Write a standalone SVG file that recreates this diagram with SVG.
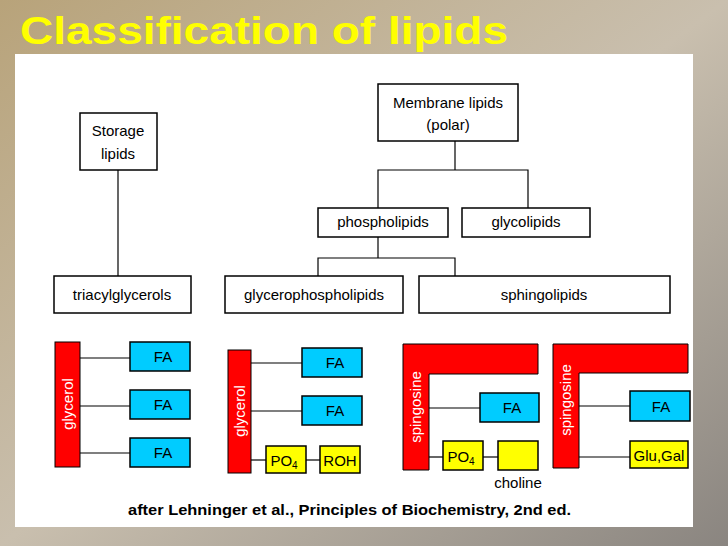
<svg xmlns="http://www.w3.org/2000/svg" width="728" height="546" viewBox="0 0 728 546">
<defs>
<linearGradient id="bg" x1="0" y1="0" x2="1" y2="1">
<stop offset="0" stop-color="#b8a37a"/><stop offset="0.5" stop-color="#c9bfae"/><stop offset="1" stop-color="#8a8580"/>
</linearGradient>
</defs>
<style>
.b{fill:#fff;stroke:#000;stroke-width:1.5}
.t{font-family:"Liberation Sans",Arial,sans-serif;font-size:15px;fill:#000;text-anchor:middle}
.fa{fill:#00ccff;stroke:#000;stroke-width:1.5}
.y{fill:#ffff00;stroke:#000;stroke-width:1.5}
.r{fill:#ff0000;stroke:#000;stroke-width:1}
.w{font-family:"Liberation Sans",Arial,sans-serif;font-size:15px;fill:#fff;text-anchor:middle}
.c line,.c polyline{stroke:#000;stroke-width:1.2;fill:none}
</style>
<rect width="728" height="546" fill="url(#bg)"/>
<rect x="15" y="54" width="678" height="473" fill="#fff"/>
<text x="20" y="44" font-family="Liberation Sans,Arial,sans-serif" font-weight="bold" font-size="38" fill="#ffff00" textLength="488" lengthAdjust="spacingAndGlyphs">Classification of lipids</text>
<g class="c" id="connectors">
<line x1="118" y1="170" x2="118" y2="276"/>
<line x1="455" y1="141" x2="455" y2="170"/>
<polyline points="378,208 378,170 528,170 528,208"/>
<line x1="378" y1="237" x2="378" y2="258"/>
<polyline points="318,276 318,258 455,258 455,276"/>
<line x1="80" y1="358" x2="130" y2="358"/><line x1="80" y1="406" x2="130" y2="406"/><line x1="80" y1="453" x2="130" y2="453"/>
<line x1="251" y1="363" x2="302" y2="363"/><line x1="251" y1="411" x2="302" y2="411"/><line x1="251" y1="460" x2="266" y2="460"/><line x1="306" y1="460" x2="320" y2="460"/>
<line x1="429" y1="408" x2="480" y2="408"/><line x1="429" y1="457" x2="443" y2="457"/><line x1="483" y1="457" x2="498" y2="457"/>
<line x1="579" y1="406" x2="630" y2="406"/><line x1="579" y1="457" x2="630" y2="457"/>
</g>
<g id="storage"><rect class="b" x="80" y="113" width="77" height="57"/><text class="t" x="118" y="136">Storage</text><text class="t" x="118" y="159">lipids</text></g>
<g id="membrane"><rect class="b" x="378" y="84" width="140" height="57"/><text class="t" x="448" y="108">Membrane lipids</text><text class="t" x="448" y="130">(polar)</text></g>
<g id="phospholipids"><rect class="b" x="318" y="208" width="130" height="29"/><text class="t" x="383" y="227">phospholipids</text></g>
<g id="glycolipids"><rect class="b" x="462" y="208" width="128" height="29"/><text class="t" x="526" y="227">glycolipids</text></g>
<g id="triacylglycerols"><rect class="b" x="54" y="276" width="137" height="37"/><text class="t" x="122" y="300">triacylglycerols</text></g>
<g id="glycerophospholipids"><rect class="b" x="225" y="276" width="178" height="37"/><text class="t" x="314" y="300">glycerophospholipids</text></g>
<g id="sphingolipids"><rect class="b" x="419" y="276" width="251" height="37"/><text class="t" x="544" y="300">sphingolipids</text></g>
<g id="tag">
<rect class="r" x="55" y="342" width="25" height="125"/><text class="w" transform="translate(73,404) rotate(-90)">glycerol</text>
<rect class="fa" x="130" y="342" width="60" height="29"/><text class="t" x="163" y="362">FA</text>
<rect class="fa" x="130" y="390" width="60" height="29"/><text class="t" x="163" y="410">FA</text>
<rect class="fa" x="130" y="438" width="60" height="29"/><text class="t" x="163" y="458">FA</text>
</g>
<g id="gpl">
<rect class="r" x="228" y="350" width="23" height="123"/><text class="w" transform="translate(245,411) rotate(-90)">glycerol</text>
<rect class="fa" x="302" y="348" width="60" height="29"/><text class="t" x="335" y="368">FA</text>
<rect class="fa" x="302" y="396" width="60" height="29"/><text class="t" x="335" y="416">FA</text>
<rect class="y" x="266" y="446" width="40" height="27"/><text class="t" x="284" y="466">PO<tspan font-size="10" dy="3">4</tspan></text>
<rect class="y" x="320" y="446" width="40" height="27"/><text class="t" x="340" y="466">ROH</text>
</g>
<g id="sph">
<path class="r" d="M403,344 H538 V374 H429 V470 H403 Z"/><text class="w" transform="translate(421,407) rotate(-90)">spingosine</text>
<rect class="fa" x="480" y="393" width="59" height="29"/><text class="t" x="512" y="413">FA</text>
<rect class="y" x="443" y="441" width="40" height="29"/><text class="t" x="461" y="462">PO<tspan font-size="10" dy="3">4</tspan></text>
<rect class="y" x="498" y="441" width="40" height="29"/>
<text class="t" x="518" y="488">choline</text>
</g>
<g id="glycolipid">
<path class="r" d="M553,344 H688 V373 H579 V468 H553 Z"/><text class="w" transform="translate(571,400) rotate(-90)">spingosine</text>
<rect class="fa" x="630" y="391" width="60" height="30"/><text class="t" x="661" y="412">FA</text>
<rect class="y" x="630" y="441" width="58" height="27"/><text class="t" x="659" y="461">Glu,Gal</text>
</g>
<text x="128" y="515" font-family="Liberation Sans,Arial,sans-serif" font-weight="bold" font-size="15" textLength="443" lengthAdjust="spacingAndGlyphs">after Lehninger et al., Principles of Biochemistry, 2nd ed.</text>
</svg>
